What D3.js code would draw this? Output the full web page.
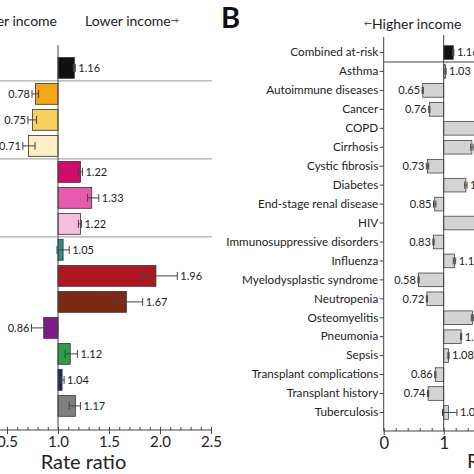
<!DOCTYPE html>
<html>
<head>
<meta charset="utf-8">
<script src="https://cdn.jsdelivr.net/npm/d3@7"></script>
<style>
  body { margin: 0; background: #fff; }
  svg { display: block; font-family: Lato, "Open Sans", sans-serif; }
</style>
</head>
<body>
<svg id="chart" width="474" height="474"></svg>
<script>
/*
Panel A values (row names fall outside the picture)
*/
var aValues = [1.16, 0.78, 0.75, 0.71, 1.22, 1.33, 1.22, 1.05, 1.96, 1.67, 0.86, 1.12, 1.04, 1.17];
var aLower = [1.15, 0.745, 0.705, 0.655, 1.2, 1.29, 1.2, 0.99, 1.81, 1.53, 0.74, 1.07, 1.03, 1.11];
var aUpper = [1.17, 0.81, 0.79, 0.775, 1.24, 1.4, 1.23, 1.11, 2.17, 1.83, 1.0, 1.19, 1.06, 1.22];
var aGroupBreaks = [0, 3, 6]; // separator after these rows
var aTicks = [0.5, 1.0, 1.5, 2.0, 2.5];

/*
Panel B values
*/
var bCategories = ["Combined at-risk", "Asthma", "Autoimmune diseases", "Cancer", "COPD",
  "Cirrhosis", "Cystic fibrosis", "Diabetes", "End-stage renal disease", "HIV",
  "Immunosuppressive disorders", "Influenza", "Myelodysplastic syndrome", "Neutropenia",
  "Osteomyelitis", "Pneumonia", "Sepsis", "Transplant complications", "Transplant history ",
  "Tuberculosis"];
var bValues = [1.16, 1.03, 0.65, 0.76, 1.62, 1.47, 0.73, 1.37, 0.85, 1.8, 0.83, 1.18, 0.58, 0.72, 1.48, 1.29, 1.08, 0.86, 0.74, 1.08];
var bLower = [1.15, 1.02, 0.64, 0.75, 1.6, 1.45, 0.71, 1.35, 0.83, 1.77, 0.82, 1.16, 0.57, 0.71, 1.46, 1.28, 1.07, 0.85, 0.73, 0.98];
var bUpper = [1.17, 1.04, 0.66, 0.77, 1.64, 1.49, 0.75, 1.39, 0.87, 1.83, 0.84, 1.2, 0.59, 0.73, 1.5, 1.3, 1.09, 0.87, 0.75, 1.22];
var bTicks = [0, 1];

// styles
var aColors = ["#111111", "#f4a614", "#f8d060", "#fcefc4", "#cf0c6c", "#e85aae", "#f6bddf",
  "#2f8c8a", "#ae1620", "#7d2914", "#7e1a8c", "#2f9a47", "#1d2570", "#808080"];
var bColors = ["#111111"];
var bDefault = "#d3d3d3";
var ink = "#444";

var svg = d3.select("#chart");

/*
Panel A
*/
var ax = d3.scaleLinear().domain([0.5, 2.5]).range([7, 211]);
var ay = d3.scaleBand().domain(d3.range(aValues.length)).range([52.3, 421.5]).padding(0.2);
var aAxisY = 430;

var gA = svg.append("g");

// group separators
gA.selectAll(".sep")
  .data(aGroupBreaks)
  .enter()
  .append("line")
  .attr("x1", 0)
  .attr("x2", 212)
  .attr("y1", (d) => ay(d) + ay.step() - (ay.step() - ay.bandwidth()) / 2)
  .attr("y2", (d) => ay(d) + ay.step() - (ay.step() - ay.bandwidth()) / 2)
  .attr("stroke", "#999")
  .attr("stroke-width", 1);

gA.selectAll("rect")
  .data(aValues)
  .enter()
  .append("rect")
  .attr("x", (d) => ax(Math.min(d, 1)))
  .attr("width", (d) => Math.abs(ax(d) - ax(1)))
  .attr("y", (d, i) => ay(i))
  .attr("height", ay.bandwidth())
  .attr("fill", (d, i) => aColors[i])
  .attr("stroke", "#333")
  .attr("stroke-width", 0.8);

// error bars
var aErr = gA.selectAll(".err").data(aValues).enter().append("g");
aErr.append("line")
  .attr("x1", (d, i) => ax(aLower[i]))
  .attr("x2", (d, i) => ax(aUpper[i]))
  .attr("y1", (d, i) => ay(i) + ay.bandwidth() / 2)
  .attr("y2", (d, i) => ay(i) + ay.bandwidth() / 2)
  .attr("stroke", ink);
[aLower, aUpper].forEach(function (arr) {
  aErr.append("line")
    .attr("x1", (d, i) => ax(arr[i]))
    .attr("x2", (d, i) => ax(arr[i]))
    .attr("y1", (d, i) => ay(i) + ay.bandwidth() / 2 - 4)
    .attr("y2", (d, i) => ay(i) + ay.bandwidth() / 2 + 4)
    .attr("stroke", ink);
});

gA.selectAll(".lab")
  .data(aValues)
  .enter()
  .append("text")
  .attr("x", (d, i) => (d < 1 ? ax(aLower[i]) - 2 : ax(aUpper[i]) + 3))
  .attr("y", (d, i) => ay(i) + ay.bandwidth() / 2)
  .attr("dy", "0.35em")
  .attr("text-anchor", (d) => (d < 1 ? "end" : "start"))
  .attr("font-size", 11)
  .attr("fill", "#222")
  .text((d) => d.toFixed(2));

// reference line at 1
gA.append("line")
  .attr("x1", ax(1)).attr("x2", ax(1))
  .attr("y1", 45).attr("y2", aAxisY)
  .attr("stroke", ink);

// x axis
var aMinor = gA.append("g")
  .attr("transform", "translate(0," + aAxisY + ")")
  .call(d3.axisBottom(ax).ticks(20).tickSize(-3).tickFormat(""));
aMinor.select(".domain").remove();
aMinor.selectAll("line").attr("stroke", ink);

var aMajor = gA.append("g")
  .attr("transform", "translate(0," + aAxisY + ")")
  .call(d3.axisBottom(ax).tickValues(aTicks).tickSize(4).tickPadding(2).tickFormat(d3.format(".1f")));
aMajor.select(".domain").remove();
aMajor.selectAll("line").attr("stroke", ink);
aMajor.selectAll("text").attr("font-size", 15).attr("fill", "#222").attr("font-family", "Lato");

gA.append("line")
  .attr("x1", 0).attr("x2", ax(2.5))
  .attr("y1", aAxisY).attr("y2", aAxisY)
  .attr("stroke", ink);

gA.append("text")
  .attr("x", 83.5).attr("y", 469)
  .attr("text-anchor", "middle")
  .attr("font-size", 20)
  .attr("fill", "#222")
  .text("Rate ratio");

var aHigher = gA.append("text")
  .attr("x", 57).attr("y", 26)
  .attr("text-anchor", "end")
  .attr("font-size", 14)
  .attr("fill", "#222");
aHigher.append("tspan").attr("font-size", 8).attr("dy", -3).text("\u2190");
aHigher.append("tspan").attr("dy", 3).text("Higher income");

var aLowerT = gA.append("text")
  .attr("x", 85).attr("y", 26)
  .attr("font-size", 14)
  .attr("fill", "#222");
aLowerT.append("tspan").text("Lower income");
aLowerT.append("tspan").attr("font-size", 8).attr("dy", -3).text("\u2192");

/*
Panel B
*/
var bx = d3.scaleLinear().domain([0, 1.5]).range([383.7, 473.7]);
var by = d3.scaleBand().domain(bCategories).range([40.4, 424.6]).padding(0.28);
var bAxisY = 431;

var gB = svg.append("g");

gB.append("text")
  .attr("x", 221).attr("y", 28)
  .attr("font-size", 29)
  .attr("font-weight", "bold")
  .attr("fill", "#111")
  .text("B");

var bHigher = gB.append("text")
  .attr("x", 364).attr("y", 29)
  .attr("font-size", 14)
  .attr("fill", "#222");
bHigher.append("tspan").attr("font-size", 8).attr("dy", -3).text("\u2190");
bHigher.append("tspan").attr("dy", 3).text("Higher income");

// separator below combined row
gB.append("line")
  .attr("x1", bx(0)).attr("x2", 474)
  .attr("y1", by(bCategories[1]) - (by.step() - by.bandwidth()) / 2)
  .attr("y2", by(bCategories[1]) - (by.step() - by.bandwidth()) / 2)
  .attr("stroke", ink);

gB.selectAll("rect")
  .data(bValues)
  .enter()
  .append("rect")
  .attr("x", (d) => bx(Math.min(d, 1)))
  .attr("width", (d) => Math.abs(bx(d) - bx(1)))
  .attr("y", (d, i) => by(bCategories[i]))
  .attr("height", by.bandwidth())
  .attr("fill", (d, i) => bColors[i] || bDefault)
  .attr("stroke", "#444")
  .attr("stroke-width", 0.8);

var bErr = gB.selectAll(".err").data(bValues).enter().append("g");
bErr.append("line")
  .attr("x1", (d, i) => bx(bLower[i]))
  .attr("x2", (d, i) => bx(bUpper[i]))
  .attr("y1", (d, i) => by(bCategories[i]) + by.bandwidth() / 2)
  .attr("y2", (d, i) => by(bCategories[i]) + by.bandwidth() / 2)
  .attr("stroke", ink);
[bLower, bUpper].forEach(function (arr) {
  bErr.append("line")
    .attr("x1", (d, i) => bx(arr[i]))
    .attr("x2", (d, i) => bx(arr[i]))
    .attr("y1", (d, i) => by(bCategories[i]) + by.bandwidth() / 2 - 3.5)
    .attr("y2", (d, i) => by(bCategories[i]) + by.bandwidth() / 2 + 3.5)
    .attr("stroke", ink);
});

gB.selectAll(".lab")
  .data(bValues)
  .enter()
  .append("text")
  .attr("x", (d, i) => (d < 1 ? bx(bLower[i]) - 2 : bx(bUpper[i]) + 3))
  .attr("y", (d, i) => by(bCategories[i]) + by.bandwidth() / 2)
  .attr("dy", "0.35em")
  .attr("text-anchor", (d) => (d < 1 ? "end" : "start"))
  .attr("font-size", 11)
  .attr("fill", "#222")
  .text((d) => d.toFixed(2));

// reference line at 1
gB.append("line")
  .attr("x1", bx(1)).attr("x2", bx(1))
  .attr("y1", 35).attr("y2", bAxisY)
  .attr("stroke", ink);

// y axis
var bYAxis = gB.append("g")
  .attr("transform", "translate(" + bx(0) + ",0)")
  .call(d3.axisLeft(by).tickSize(4).tickPadding(1.5).tickSizeOuter(0));
bYAxis.select(".domain").remove();
bYAxis.selectAll("line").attr("stroke", ink);
bYAxis.selectAll("text").attr("font-size", 11.7).attr("fill", "#222").attr("font-family", "Lato");
gB.append("line")
  .attr("x1", bx(0)).attr("x2", bx(0))
  .attr("y1", 37).attr("y2", bAxisY)
  .attr("stroke", ink);

// x axis
var bMinor = gB.append("g")
  .attr("transform", "translate(0," + bAxisY + ")")
  .call(d3.axisBottom(bx).ticks(8).tickSize(-3).tickFormat(""));
bMinor.select(".domain").remove();
bMinor.selectAll("line").attr("stroke", ink);

var bMajor = gB.append("g")
  .attr("transform", "translate(0," + bAxisY + ")")
  .call(d3.axisBottom(bx).tickValues(bTicks).tickSize(4).tickPadding(2).tickFormat(d3.format("d")));
bMajor.select(".domain").remove();
bMajor.selectAll("line").attr("stroke", ink);
bMajor.selectAll("text").attr("font-size", 16.5).attr("fill", "#222").attr("font-family", "Lato");

gB.append("line")
  .attr("x1", bx(0)).attr("x2", 474)
  .attr("y1", bAxisY).attr("y2", bAxisY)
  .attr("stroke", ink);

gB.append("text")
  .attr("x", 467).attr("y", 468)
  .attr("font-size", 20)
  .attr("fill", "#222")
  .text("Rate ratio");
</script>
</body>
</html>
